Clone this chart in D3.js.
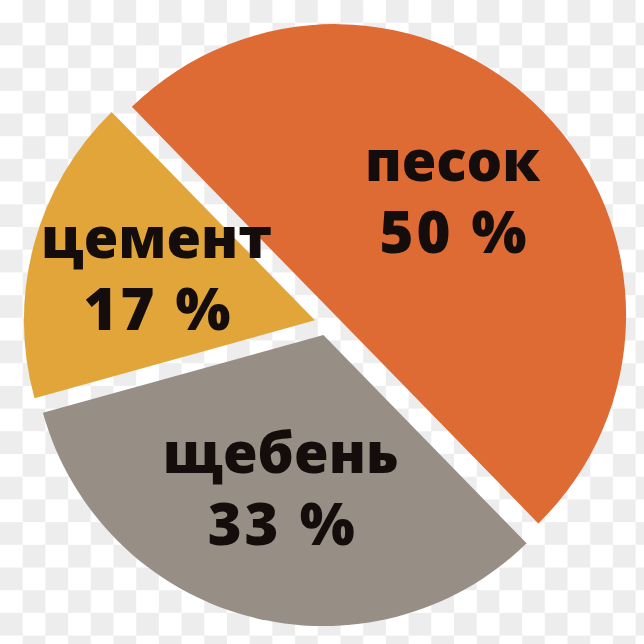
<!DOCTYPE html>
<html>
<head>
<meta charset="utf-8">
<script src="https://cdn.jsdelivr.net/npm/d3@7"></script>
<style>
  body { margin: 0; background: #fff; }
  svg { display: block; }
</style>
</head>
<body>
<svg width="644" height="644"></svg>
<script>
// ------------------------------------------------------
// DATA
// ------------------------------------------------------
var materials = ["песок", "щебень", "цемент"];
var shares = [50, 33, 17];
var shareLabels = ["50 %", "33 %", "17 %"];
var sliceColors = ["#de6a34", "#978e86", "#e2a53a"];

// ------------------------------------------------------
// Setup
// ------------------------------------------------------
var svg = d3.select("svg"),
    width = +svg.attr("width"),
    height = +svg.attr("height");

// faint checker background
var defs = svg.append("defs");
var pat = defs.append("pattern")
    .attr("id", "checker")
    .attr("width", 45.4).attr("height", 45.4)
    .attr("patternUnits", "userSpaceOnUse");
pat.append("rect").attr("width", 45.4).attr("height", 45.4).attr("fill", "#ffffff");
pat.append("rect").attr("x", 22.7).attr("width", 22.7).attr("height", 22.7).attr("fill", "#ededed");
pat.append("rect").attr("y", 22.7).attr("width", 22.7).attr("height", 22.7).attr("fill", "#ededed");
svg.append("rect").attr("width", width).attr("height", height).attr("fill", "url(#checker)");

var cx = 326.5, cy = 323.5,
    radius = 291,
    explode = 12,
    start = -44.3 * Math.PI / 180;

var data = materials.map(function(m, i) {
    return {name: m, value: shares[i], label: shareLabels[i], color: sliceColors[i]};
});

var pie = d3.pie()
    .sort(null)
    .value(function(d) { return d.value; })
    .startAngle(start)
    .endAngle(start + 2 * Math.PI);

var arc = d3.arc().innerRadius(0).outerRadius(radius);
var labelArc = d3.arc().innerRadius(164).outerRadius(164);

var g = svg.append("g").attr("transform", "translate(" + cx + "," + cy + ")");

// slices pushed out a little along their middle angle
var slices = g.selectAll("g.slice")
    .data(pie(data))
    .enter().append("g")
    .attr("class", "slice")
    .attr("transform", function(d) {
        var a = (d.startAngle + d.endAngle) / 2;
        return "translate(" + (explode * Math.sin(a)) + "," + (-explode * Math.cos(a)) + ")";
    });

slices.append("path")
    .attr("d", arc)
    .attr("fill", function(d) { return d.data.color; });

var labels = slices.append("text")
    .attr("transform", function(d) { return "translate(" + labelArc.centroid(d) + ")"; })
    .attr("text-anchor", "middle")
    .attr("font-family", "'Open Sans', 'Noto Sans', sans-serif")
    .attr("font-weight", 800)
    .attr("fill", "#150d0b");

labels.append("tspan")
    .attr("x", 0)
    .attr("y", -20)
    .attr("font-size", 56)
    .text(function(d) { return d.data.name; });

labels.append("tspan")
    .attr("x", 2)
    .attr("y", 52)
    .attr("font-size", 58)
    .attr("letter-spacing", 3)
    .text(function(d) { return d.data.label; });
</script>
</body>
</html>
